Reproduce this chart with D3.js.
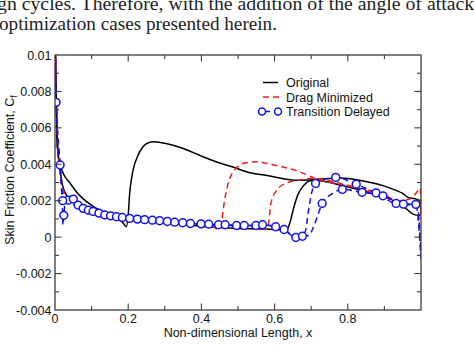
<!DOCTYPE html>
<html><head><meta charset="utf-8">
<script src="https://cdn.jsdelivr.net/npm/d3@7"></script>
<style>
html,body{margin:0;padding:0;background:#fff;overflow:hidden}
svg{display:block}
</style></head>
<body>
<svg id="chart" width="474" height="356"></svg>
<script>
// ---- data (x, Cf in units of 1e-3) ----
const originalUpper = [[0,12],[0.002,9],[0.005,5.6],[0.009,4.4],[0.015,3.9],[0.025,3.4],[0.041,2.97],[0.06,2.45],[0.077,2.1],[0.1,1.75],[0.122,1.48],[0.145,1.25],[0.168,1.03],[0.185,0.8],[0.195,0.57],[0.2,1.2],[0.204,2.4],[0.209,3.2],[0.227,4.5],[0.24,4.95],[0.255,5.18],[0.27,5.24],[0.3,5.15],[0.35,4.87],[0.4,4.45],[0.44,4.14],[0.49,3.82],[0.53,3.55],[0.58,3.38],[0.62,3.22],[0.66,3.12],[0.72,3.18],[0.78,3.25],[0.85,3.05],[0.9,2.8],[0.93,2.58],[0.95,2.4],[0.965,2.18],[0.985,2.1],[0.997,2.0],[1.0,1.3]];
const originalLower = [[0,12],[0.003,8],[0.006,5.5],[0.01,4.3],[0.015,3.5],[0.02,2.9],[0.03,2.35],[0.045,2.0],[0.06,1.8],[0.08,1.6],[0.1,1.45],[0.15,1.2],[0.2,1.03],[0.25,0.92],[0.3,0.8],[0.35,0.7],[0.4,0.6],[0.45,0.53],[0.5,0.48],[0.55,0.45],[0.6,0.42],[0.632,0.38],[0.642,0.8],[0.652,1.6],[0.664,2.35],[0.678,2.8],[0.698,3.1],[0.72,3.1],[0.78,2.85],[0.85,2.5],[0.9,2.2],[0.94,1.85],[0.96,1.55],[0.98,1.25],[0.995,1.2],[1.0,1.2]];
const dragMinA = [[0,12],[0.003,8.5],[0.006,6],[0.01,4.5],[0.015,3.4],[0.021,2.7],[0.03,2.25],[0.045,1.95],[0.06,1.75],[0.08,1.58],[0.1,1.45],[0.15,1.2],[0.2,1.02],[0.25,0.93],[0.3,0.85],[0.35,0.78],[0.4,0.7],[0.43,0.6],[0.447,0.42],[0.455,0.8],[0.462,1.85],[0.476,3.13],[0.494,3.77],[0.52,4.08],[0.55,4.14],[0.59,4.0],[0.62,3.86],[0.66,3.65],[0.69,3.4],[0.72,3.15],[0.78,2.9],[0.85,2.6],[0.9,2.3],[0.94,2.0],[0.97,2.1],[0.99,2.5],[0.998,2.7],[1.0,1.1]];
const dragMinB = [[0,12],[0.003,8.5],[0.006,6],[0.01,4.4],[0.015,3.3],[0.021,2.6],[0.03,2.2],[0.045,1.9],[0.06,1.72],[0.08,1.56],[0.1,1.43],[0.15,1.18],[0.2,1.0],[0.25,0.9],[0.3,0.83],[0.35,0.76],[0.4,0.7],[0.45,0.64],[0.5,0.6],[0.55,0.55],[0.575,0.42],[0.582,0.6],[0.59,1.85],[0.603,2.49],[0.63,2.95],[0.667,3.13],[0.703,3.22],[0.72,3.2],[0.78,2.95],[0.85,2.55],[0.9,2.2],[0.94,1.85],[0.965,1.8],[0.985,1.95],[0.998,2.1],[1.0,1.1]];
// third field: 1 = a circle marker is drawn at this point
const delayedA = [[0,12,0],[0.003,7.4,1],[0.008,5.5,0],[0.014,3.96,1],[0.019,2.5,0],[0.022,0.66,0],[0.024,1.2,1],[0.028,1.9,0],[0.036,2.03,1],[0.05,2.09,1],[0.063,1.76,1],[0.077,1.58,1],[0.091,1.48,1],[0.104,1.41,1],[0.12,1.32,1],[0.136,1.22,1],[0.152,1.17,1],[0.168,1.12,1],[0.184,1.08,1],[0.204,1.03,1],[0.225,0.99,1],[0.245,0.96,1],[0.266,0.93,1],[0.286,0.9,1],[0.307,0.86,1],[0.327,0.82,1],[0.349,0.79,1],[0.37,0.75,1],[0.399,0.73,1],[0.42,0.71,1],[0.447,0.68,1],[0.465,0.68,1],[0.496,0.64,1],[0.517,0.64,1],[0.549,0.64,1],[0.567,0.68,1],[0.603,0.57,1],[0.626,0.42,1],[0.658,-0.02,1],[0.676,0.05,1],[0.685,0.4,0],[0.693,1.5,0],[0.702,2.5,0],[0.712,2.95,1],[0.767,3.28,1],[0.823,2.91,1],[0.877,2.43,1],[0.932,1.85,1],[0.986,1.8,1],[1.0,-1.2,0]];
const delayedB = [[0,12,0],[0.003,7.4,0],[0.014,3.96,0],[0.021,2.0,1],[0.036,2.03,0],[0.05,2.0,0],[0.063,1.76,0],[0.077,1.58,0],[0.1,1.43,0],[0.15,1.18,0],[0.2,1.04,0],[0.25,0.95,0],[0.3,0.87,0],[0.35,0.79,0],[0.4,0.73,0],[0.45,0.68,0],[0.5,0.64,0],[0.55,0.64,0],[0.57,0.66,0],[0.603,0.57,0],[0.626,0.42,0],[0.658,-0.02,0],[0.676,0.05,0],[0.694,0.1,0],[0.705,0.5,0],[0.718,1.2,0],[0.73,1.85,1],[0.755,2.35,0],[0.785,2.62,1],[0.839,2.46,1],[0.896,2.27,1],[0.952,1.81,1],[0.99,1.7,0],[1.0,-1.0,0]];

const seriesNames = ["Original","Drag Minimized","Transition Delayed"];
const xMajorTicks = [0,0.2,0.4,0.6,0.8];
const xTickLabels = ["0","0.2","0.4","0.6","0.8"];
const xMinorTicks = [0.1,0.3,0.5,0.7,0.9];
const yMajorTicks = [-0.004,-0.002,0,0.002,0.004,0.006,0.008,0.01];
const yTickLabels = ["-0.004","-0.002","0","0.002","0.004","0.006","0.008","0.01"];
const yMinorTicks = [-0.003,-0.001,0.001,0.003,0.005,0.007,0.009];
const textLines = ["gn cycles.  Therefore, with the addition of the angle of attack,","optimization cases presented herein."];

// ---- layout ----
const svg = d3.select("#chart");
const L = 55, R = 421, T = 55, B = 310;
const x = d3.scaleLinear().domain([0,1]).range([L,R]);
const y = d3.scaleLinear().domain([-0.004,0.01]).range([B,T]);
const font = "'Liberation Sans', Arial, Helvetica, sans-serif";
const axisCol = "#3c3c3c";

// page text above the figure
svg.append("text").attr("x",-3).attr("y",9.5)
  .attr("font-family","'Liberation Serif','Times New Roman',serif").attr("font-size",18.5)
  .attr("textLength",482).attr("lengthAdjust","spacingAndGlyphs")
  .attr("fill","#222").text(textLines[0]);
svg.append("text").attr("x",-1).attr("y",30)
  .attr("font-family","'Liberation Serif','Times New Roman',serif").attr("font-size",18.5)
  .attr("textLength",278).attr("lengthAdjust","spacingAndGlyphs")
  .attr("fill","#222").text(textLines[1]);

svg.append("defs").append("clipPath").attr("id","plotclip")
  .append("rect").attr("x",L).attr("y",T).attr("width",R-L).attr("height",B-T);

const g = svg.append("g").attr("clip-path","url(#plotclip)");
const line = d3.line().x(d=>x(d[0])).y(d=>y(d[1]*1e-3)).curve(d3.curveMonotoneX);

[originalUpper, originalLower].forEach(s=>{
  g.append("path").datum(s).attr("d",line).attr("fill","none")
    .attr("stroke","#000").attr("stroke-width",1.5);
});
[dragMinA, dragMinB].forEach(s=>{
  g.append("path").datum(s).attr("d",line).attr("fill","none")
    .attr("stroke","#ee1c1c").attr("stroke-width",1.5).attr("stroke-dasharray","6,4");
});
[delayedA, delayedB].forEach(s=>{
  g.append("path").datum(s).attr("d",line).attr("fill","none")
    .attr("stroke","#1010ee").attr("stroke-width",1.5).attr("stroke-dasharray","6,4");
});
[delayedA, delayedB].forEach(s=>{
  g.selectAll(null).data(s.filter(d=>d[2]===1)).enter().append("circle")
    .attr("cx",d=>x(d[0])).attr("cy",d=>y(d[1]*1e-3)).attr("r",3.9)
    .attr("fill","#fff").attr("stroke","#1010ee").attr("stroke-width",1.5);
});

// frame
svg.append("rect").attr("x",L).attr("y",T).attr("width",R-L).attr("height",B-T)
  .attr("fill","none").attr("stroke",axisCol).attr("stroke-width",1.3);

// ticks (inward, all four sides)
const tk = svg.append("g").attr("stroke",axisCol).attr("stroke-width",1.1);
const xt = (vals,len)=>vals.forEach(v=>{
  tk.append("line").attr("x1",x(v)).attr("x2",x(v)).attr("y1",B).attr("y2",B-len);
  tk.append("line").attr("x1",x(v)).attr("x2",x(v)).attr("y1",T).attr("y2",T+len);
});
xt(xMajorTicks.slice(1),6.5); xt(xMinorTicks,4);
const yt = (vals,len)=>vals.forEach(v=>{
  tk.append("line").attr("x1",L).attr("x2",L+len).attr("y1",y(v)).attr("y2",y(v));
  tk.append("line").attr("x1",R).attr("x2",R-len).attr("y1",y(v)).attr("y2",y(v));
});
yt(yMajorTicks.slice(1,-1),6.5); yt(yMinorTicks,4);

// tick labels
svg.append("g").selectAll("text").data(xMajorTicks).enter().append("text")
  .attr("x",d=>x(d)).attr("y",322.5).attr("text-anchor","middle")
  .attr("font-family",font).attr("font-size",12.5).attr("fill","#111")
  .text((d,i)=>xTickLabels[i]);
svg.append("g").selectAll("text").data(yMajorTicks).enter().append("text")
  .attr("x",51.5).attr("y",d=>y(d)+4.5).attr("text-anchor","end")
  .attr("font-family",font).attr("font-size",12.5).attr("fill","#111")
  .text((d,i)=>yTickLabels[i]);

// axis titles
svg.append("text").attr("x",238).attr("y",337).attr("text-anchor","middle")
  .attr("font-family",font).attr("font-size",12.5).attr("fill","#111")
  .text("Non-dimensional Length, x");
const yl = svg.append("text").attr("transform","translate(14,170) rotate(-90)")
  .attr("text-anchor","middle").attr("font-family",font).attr("font-size",12.5).attr("fill","#111");
yl.append("tspan").text("Skin Friction Coefficient, C");
yl.append("tspan").attr("font-size",9).attr("dy",3).text("f");

// legend
const lg = svg.append("g");
const rows = [82.5, 97, 111.5];
lg.append("line").attr("x1",263).attr("x2",278).attr("y1",rows[0]).attr("y2",rows[0])
  .attr("stroke","#000").attr("stroke-width",1.5);
lg.append("line").attr("x1",263).attr("x2",279).attr("y1",rows[1]).attr("y2",rows[1])
  .attr("stroke","#ee1c1c").attr("stroke-width",1.5).attr("stroke-dasharray","6,4");
lg.append("line").attr("x1",262).attr("x2",278).attr("y1",rows[2]).attr("y2",rows[2])
  .attr("stroke","#1010ee").attr("stroke-width",1.5).attr("stroke-dasharray","4,4").attr("stroke-dashoffset",-4);
[262,278].forEach(cx=>lg.append("circle").attr("cx",cx).attr("cy",rows[2]).attr("r",3.5)
  .attr("fill","#fff").attr("stroke","#1010ee").attr("stroke-width",1.5));
lg.selectAll("text.lt").data(seriesNames).enter().append("text")
  .attr("x",286).attr("y",(d,i)=>rows[i]+4.5)
  .attr("font-family",font).attr("font-size",12.5).attr("fill","#111").text(d=>d);
</script>
</body></html>
